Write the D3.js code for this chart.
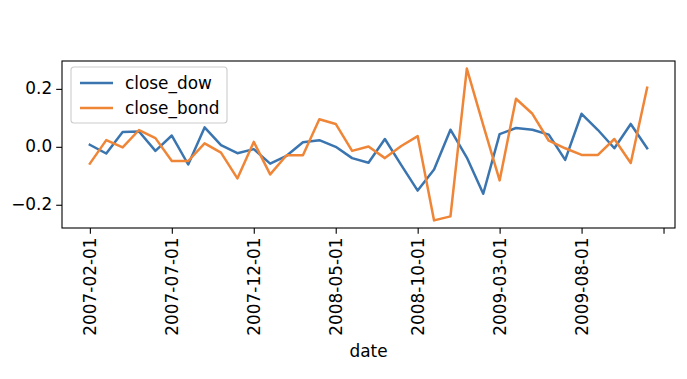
<!DOCTYPE html>
<html>
<head>
<meta charset="utf-8">
<script src="https://cdn.jsdelivr.net/npm/d3@7"></script>
<style>
  body { margin: 0; background: #fff; }
  svg text { font-family: "DejaVu Sans", sans-serif; fill: #000; }
</style>
</head>
<body>
<svg id="chart" width="687" height="379"></svg>
<script>
const dates = [
  '2007-02-01', '2007-03-01', '2007-04-01', '2007-05-01', '2007-06-01', '2007-07-01',
  '2007-08-01', '2007-09-01', '2007-10-01', '2007-11-01', '2007-12-01', '2008-01-01',
  '2008-02-01', '2008-03-01', '2008-04-01', '2008-05-01', '2008-06-01', '2008-07-01',
  '2008-08-01', '2008-09-01', '2008-10-01', '2008-11-01', '2008-12-01', '2009-01-01',
  '2009-02-01', '2009-03-01', '2009-04-01', '2009-05-01', '2009-06-01', '2009-07-01',
  '2009-08-01', '2009-09-01', '2009-10-01', '2009-11-01', '2009-12-01'
];
const closeDow = [
  0.007, -0.023, 0.051, 0.053, -0.014, 0.039, -0.061, 0.067, 0.006, -0.022,
  -0.008, -0.058, -0.031, 0.016, 0.023, 0.000, -0.039, -0.055, 0.027, -0.063,
  -0.151, -0.078, 0.059, -0.037, -0.162, 0.044, 0.065, 0.059, 0.042, -0.045,
  0.114, 0.058, -0.005, 0.079, -0.005
];
const closeBond = [
  -0.058, 0.023, -0.002, 0.058, 0.030, -0.049, -0.049, 0.012, -0.020, -0.109,
  0.017, -0.095, -0.029, -0.029, 0.095, 0.079, -0.014, 0.001, -0.039, 0.003,
  0.037, -0.254, -0.240, 0.270, 0.075, -0.116, 0.166, 0.114, 0.021, -0.005,
  -0.028, -0.028, 0.027, -0.056, 0.204
];
const yTicks = [-0.2, 0.0, 0.2];
const series = [
  { name: 'close_dow', values: closeDow, color: '#3a75b0' },
  { name: 'close_bond', values: closeBond, color: '#ef8536' }
];

const svg = d3.select('#chart');
const plotLeft = 62, plotRight = 675, plotTop = 61, plotBottom = 228;
const fontSize = 16.9;

const n = dates.length;
const xScale = d3.scaleLinear()
  .domain([-0.05 * (n - 1), (n - 1) * 1.05])
  .range([plotLeft, plotRight]);

const all = closeDow.concat(closeBond);
const yMin = d3.min(all), yMax = d3.max(all), pad = (yMax - yMin) * 0.05;
const yScale = d3.scaleLinear()
  .domain([yMin - pad, yMax + pad])
  .range([plotBottom, plotTop]);

// tick every 5 months, last one past the data has no label
const xTickIdx = d3.range(0, n + 1, 5);

const xAxis = svg.append('g')
  .attr('transform', `translate(0, ${plotBottom})`)
  .call(d3.axisBottom(xScale)
    .tickValues(xTickIdx)
    .tickSize(5.8)
    .tickPadding(4)
    .tickFormat(i => dates[i] || ''));
xAxis.select('.domain').remove();
xAxis.selectAll('line').attr('stroke', '#000').attr('stroke-width', 1.1);
xAxis.selectAll('text')
  .attr('font-size', fontSize)
  .attr('transform', 'rotate(-90)')
  .attr('text-anchor', 'end')
  .attr('dy', '0.35em')
  .attr('x', -9.5)
  .attr('y', 0);

const yAxis = svg.append('g')
  .attr('transform', `translate(${plotLeft}, 0)`)
  .call(d3.axisLeft(yScale)
    .tickValues(yTicks)
    .tickSize(5.8)
    .tickPadding(4)
    .tickFormat(d => d3.format('.1f')(d).replace('-', '\u2212')));
yAxis.select('.domain').remove();
yAxis.selectAll('line').attr('stroke', '#000').attr('stroke-width', 1.1);
yAxis.selectAll('text').attr('font-size', fontSize).attr('dy', '0.3em');

const line = d3.line()
  .x((d, i) => xScale(i))
  .y(d => yScale(d));

series.forEach(s => {
  svg.append('path')
    .datum(s.values)
    .attr('fill', 'none')
    .attr('stroke', s.color)
    .attr('stroke-width', 2.5)
    .attr('stroke-linejoin', 'round')
    .attr('stroke-linecap', 'square')
    .attr('d', line);
});

svg.append('rect')
  .attr('x', plotLeft)
  .attr('y', plotTop)
  .attr('width', plotRight - plotLeft)
  .attr('height', plotBottom - plotTop)
  .attr('fill', 'none')
  .attr('stroke', '#000')
  .attr('stroke-width', 1.1);

// legend
const legend = svg.append('g').attr('transform', 'translate(71, 67)');
legend.append('rect')
  .attr('width', 156)
  .attr('height', 56)
  .attr('rx', 3)
  .attr('fill', '#fff')
  .attr('fill-opacity', 0.8)
  .attr('stroke', '#ccc')
  .attr('stroke-width', 1.1);
series.forEach((s, i) => {
  const y = 16 + i * 25;
  legend.append('line')
    .attr('x1', 9).attr('x2', 42)
    .attr('y1', y).attr('y2', y)
    .attr('stroke', s.color)
    .attr('stroke-width', 2.5);
  legend.append('text')
    .attr('x', 54)
    .attr('y', y)
    .attr('dy', '0.35em')
    .attr('font-size', fontSize)
    .text(s.name);
});

svg.append('text')
  .attr('x', (plotLeft + plotRight) / 2)
  .attr('y', 357)
  .attr('text-anchor', 'middle')
  .attr('font-size', fontSize)
  .text('date');
</script>
</body>
</html>
